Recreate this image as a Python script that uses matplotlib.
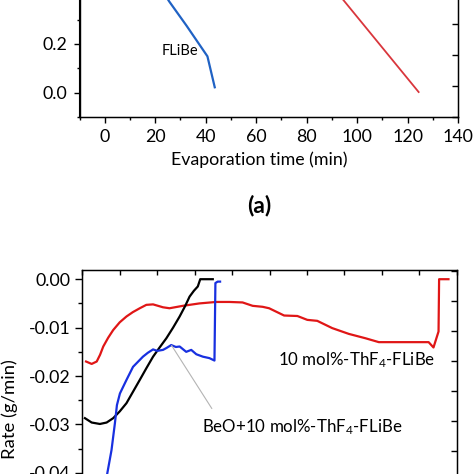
import matplotlib
matplotlib.use("Agg")
import matplotlib.pyplot as plt
from matplotlib.ticker import MultipleLocator, FuncFormatter

plt.rcParams['font.family'] = ['Lato', 'DejaVu Sans']
plt.rcParams['mathtext.fontset'] = 'custom'
plt.rcParams['mathtext.rm'] = 'Lato'
plt.rcParams['mathtext.it'] = 'Lato:italic'
plt.rcParams['axes.unicode_minus'] = False

# ---------- data (a): mass vs evaporation time ----------
flibe_time = [24.0, 25.5, 32.4, 40.7, 43.6]
flibe_mass = [0.40, 0.375, 0.275, 0.149, 0.022]
thf4_time = [93.0, 124.4]
thf4_mass = [0.40, 0.0025]

# ---------- data (b): rate vs time ----------
red_t = [2.0, 5.0, 7.7, 9.5, 11.2, 13.8, 16.5, 20.0, 23.6, 27.0, 30.7, 34.2, 37.8, 43.1, 46.6,
         53.7, 62.6, 71.5, 78.6, 85.6, 91.0, 96.3, 99.8, 107.8, 114.9, 120.2, 125.5, 133.5,
         142.4, 151.3, 158.4, 185.0, 187.6, 190.3, 190.6, 195.6]
red_r = [-0.0170, -0.0175, -0.0170, -0.0156, -0.0139, -0.0121, -0.0105, -0.0089, -0.0077,
         -0.0068, -0.0060, -0.0053, -0.0052, -0.0058, -0.0060, -0.0055, -0.0050, -0.0047,
         -0.0047, -0.0048, -0.0055, -0.0057, -0.0060, -0.0075, -0.0076, -0.0084, -0.0086,
         -0.0101, -0.0113, -0.0122, -0.0130, -0.0130, -0.0141, -0.0108, 0.0, 0.0]
black_t = [1.4, 5.0, 9.4, 13.0, 16.5, 20.0, 23.6, 27.0, 30.7, 34.2, 37.8, 41.3, 44.9, 48.5,
           52.0, 55.0, 57.3, 59.6, 61.7, 63.0, 69.7]
black_r = [-0.0287, -0.0296, -0.0299, -0.0296, -0.0287, -0.0273, -0.0256, -0.0233, -0.0208,
           -0.0184, -0.0160, -0.0141, -0.0122, -0.0100, -0.0077, -0.0055, -0.0036, -0.0024,
           -0.0015, 0.0, 0.0]
blue_t = [12.5, 13.3, 15.6, 17.4, 18.5, 20.1, 23.6, 27.1, 32.4, 35.0, 37.8, 40.0, 43.1, 45.0,
          47.5, 50.0, 52.0, 55.5, 58.2, 60.9, 64.4, 67.9, 70.6, 71.1, 72.3, 73.6]
blue_r = [-0.0450, -0.0402, -0.0353, -0.0298, -0.0260, -0.0236, -0.0208, -0.0181, -0.0160,
          -0.0152, -0.0145, -0.0148, -0.0146, -0.0142, -0.0136, -0.0140, -0.0139, -0.0150,
          -0.0146, -0.0155, -0.0160, -0.0163, -0.0168, -0.0008, -0.0005, -0.0005]

label_flibe = "FLiBe"
label_red = "10 mol%-ThF$_4$-FLiBe"
label_blue = "BeO+10 mol%-ThF$_4$-FLiBe"

W = 474.0
fig = plt.figure(figsize=(4.74, 4.74), dpi=100)

def px_axes(left, right, top, bottom):
    return [left / W, (W - bottom) / W, (right - left) / W, (bottom - top) / W]

FS = 12.8

def fmt1(v, pos):
    if v > 0.3:
        return ""
    return "%.1f" % (0.0 if abs(v) < 1e-9 else v)

def fmt2(v, pos):
    return "%.2f" % (0.0 if abs(v) < 1e-9 else v)

# ---------------- top panel ----------------
ax1 = fig.add_axes(px_axes(79.5, 458.0, -151.0, 117.0))
ax1.plot(flibe_time, flibe_mass, color='#2062c4', lw=1.6)
ax1.plot(thf4_time, thf4_mass, color='#d9363c', lw=1.3)
ax1.set_xlim(-10, 140)
ax1.set_ylim(-0.1, 1.0)
ax1.xaxis.set_major_locator(MultipleLocator(20))
ax1.xaxis.set_minor_locator(MultipleLocator(10))
ax1.yaxis.set_major_locator(MultipleLocator(0.2))
ax1.yaxis.set_minor_locator(MultipleLocator(0.1))
ax1.yaxis.set_major_formatter(FuncFormatter(fmt1))
ax1.tick_params(which='major', direction='out', length=4.5, width=1.0, labelsize=FS, pad=4)
ax1.tick_params(which='minor', direction='out', length=2.5, width=1.0)
ax1.tick_params(top=False, right=False)
ax1.set_xlabel("Evaporation time (min)", fontsize=FS)
ax1.xaxis.set_label_coords(0.4756, -0.161)
ax1.xaxis.label.set_va('center')
ax1.text(29.7, 0.17, label_flibe, fontsize=10.5, ha='center', va='center')
for s in ax1.spines.values():
    s.set_linewidth(1.0)
ax1t = ax1.twinx()
ax1t.set_ylim(0, 267.9 / 31.0)
ax1t.yaxis.set_major_locator(MultipleLocator(1))
ax1t.tick_params(direction='in', length=4, width=1.0, labelright=False)

fig.text(259 / W, (W - 206) / W, "(a)", fontsize=16.5, fontweight='bold',
         ha='center', va='center')

# ---------------- bottom panel ----------------
ax2 = fig.add_axes(px_axes(82.3, 456.7, 270.0, 521.3))
ax2.plot(red_t, red_r, color='#e01616', lw=1.6)
ax2.plot(black_t, black_r, color='black', lw=1.6)
ax2.plot(blue_t, blue_r, color='#1830e0', lw=1.6)
ax2.set_xlim(0, 200)
ax2.set_ylim(-0.05, 0.0019)
ax2.xaxis.set_major_locator(MultipleLocator(20))
ax2.yaxis.set_major_locator(MultipleLocator(0.01))
ax2.yaxis.set_minor_locator(MultipleLocator(0.005))
ax2.yaxis.set_major_formatter(FuncFormatter(fmt2))
ax2.tick_params(axis='y', which='major', direction='out', length=5, width=1.0, labelsize=FS, pad=3.5)
ax2.tick_params(axis='y', which='minor', direction='out', length=3, width=1.0)
ax2.tick_params(axis='x', which='major', direction='in', length=3.5, width=1.0,
                top=True, labelbottom=False)
ax2.tick_params(right=False)
for s in ax2.spines.values():
    s.set_linewidth(1.0)
ax2.set_ylabel("Rate (g/min)", fontsize=FS + 0.5)
ax2.yaxis.set_label_coords(-0.193, 0.447)
ax2.yaxis.label.set_va('center')
ax2.text(104.5, -0.0167, label_red, fontsize=12.2, ha='left', va='center')
ax2.text(63.8, -0.0305, label_blue, fontsize=12.2, ha='left', va='center')
ax2.annotate("", xy=(46.9, -0.0132), xytext=(70.0, -0.0272),
             arrowprops=dict(arrowstyle='-', color='#b4b4b4', lw=0.8))
ax2t = ax2.twinx()
ax2t.set_ylim(-251.2 / 30.1, 0.03)
ax2t.yaxis.set_major_locator(MultipleLocator(1))
ax2t.tick_params(direction='in', length=4, width=1.0, labelright=False)

fig.savefig("out.png", dpi=100)
